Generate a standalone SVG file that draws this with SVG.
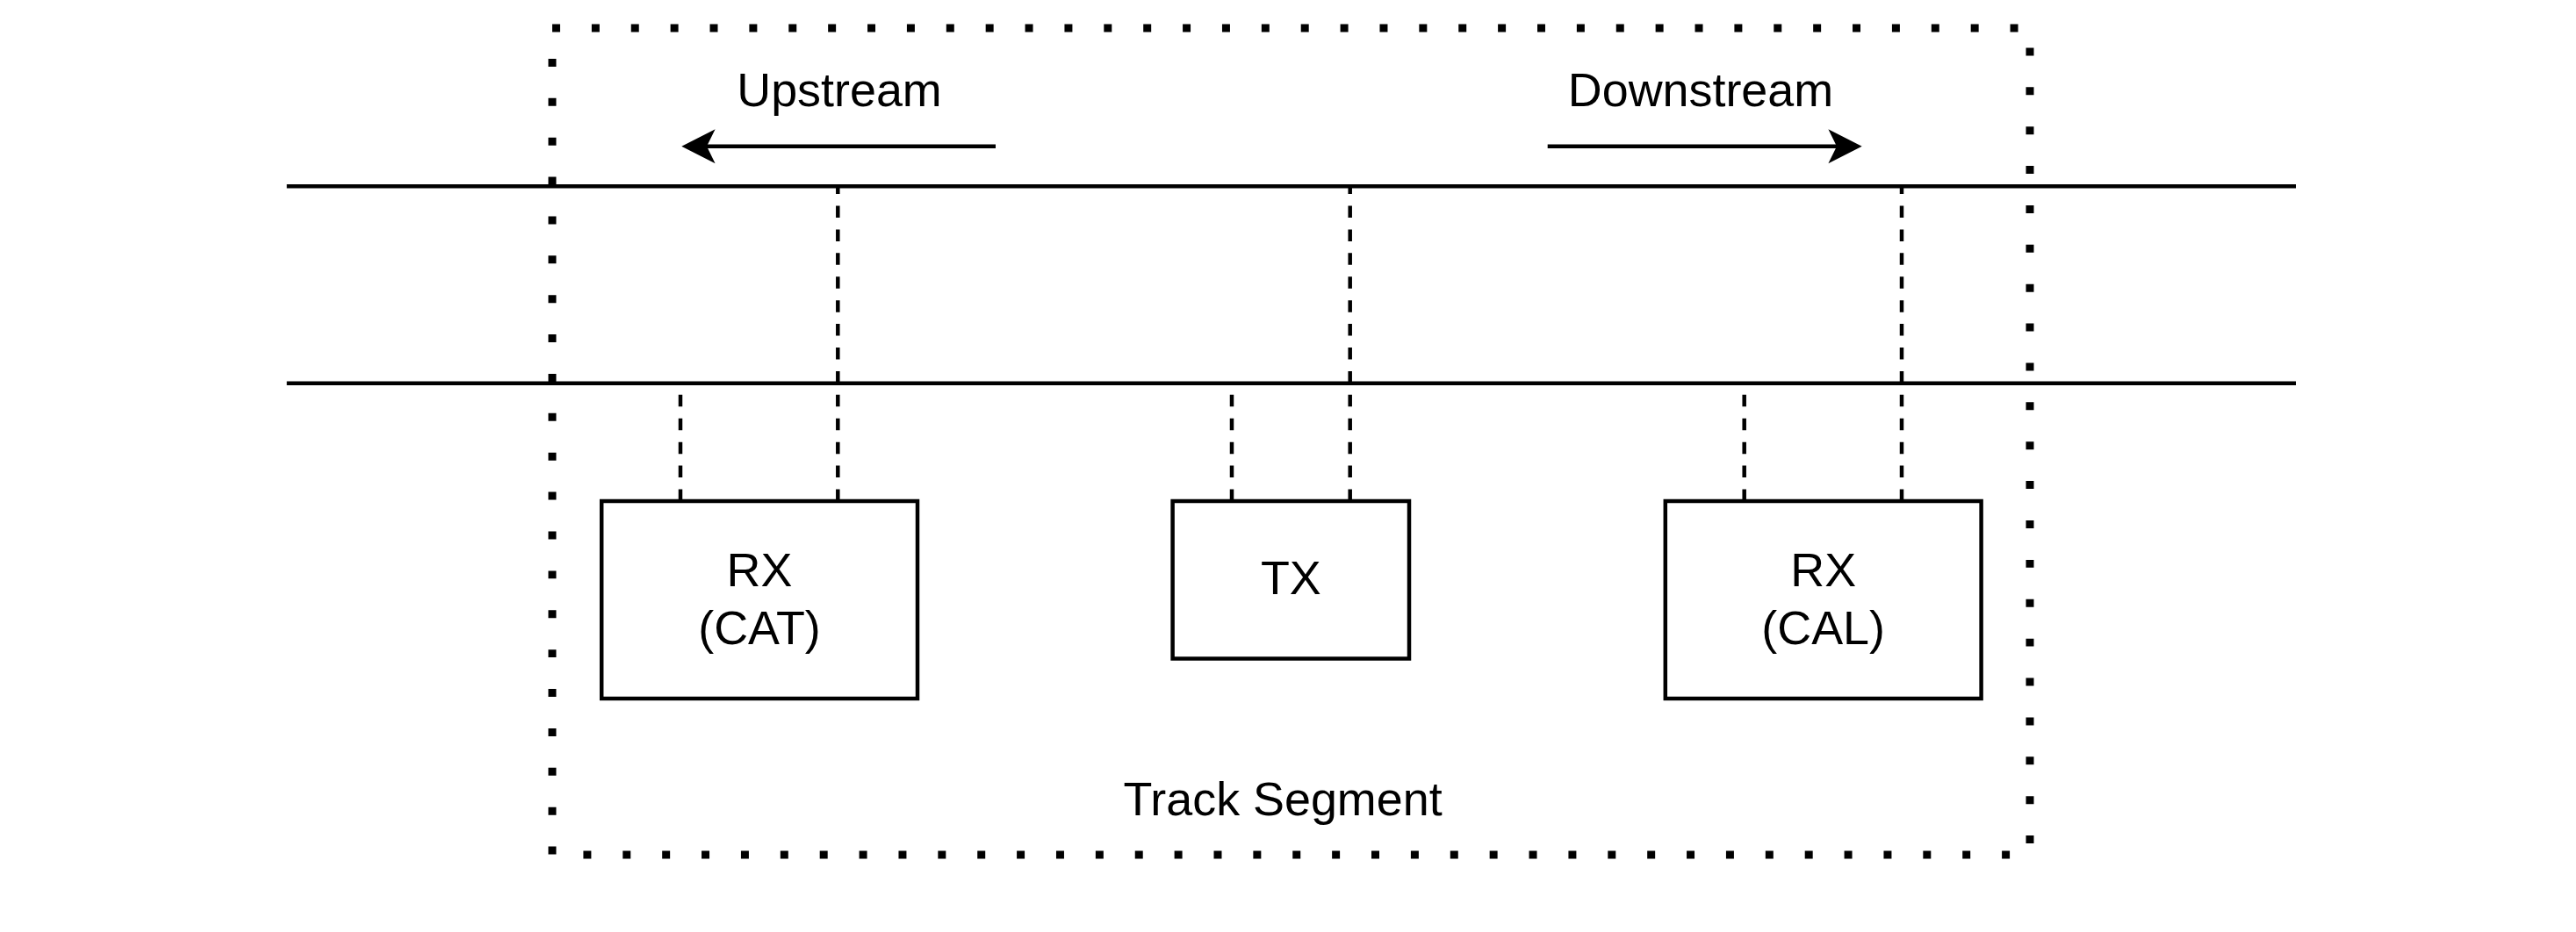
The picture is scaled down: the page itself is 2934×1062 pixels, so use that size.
<svg xmlns="http://www.w3.org/2000/svg" width="2934" height="1062" viewBox="0 0 2934 1062">
  <style>
    .lbl { font-family: "Liberation Sans", Arial, Helvetica, sans-serif; font-size: 53.86px; fill: #000; text-anchor: middle; }
    .box { fill: #fff; stroke: #000; stroke-width: 4.49; }
    .rail { stroke: #000; stroke-width: 4.49; fill: none; }
    .dash { stroke: #000; stroke-width: 4.49; fill: none; stroke-dasharray: 13.46 13.46; }
    .arrow { stroke: #000; stroke-width: 4.49; fill: none; marker-end: url(#classic); }
    .segment { fill: none; stroke: #000; stroke-width: 8.98; stroke-dasharray: 8.98 35.9; }
  </style>
  <defs>
    <marker id="classic" markerUnits="userSpaceOnUse" markerWidth="40" markerHeight="42" viewBox="0 -21 40 42" refX="9.6" refY="0" orient="auto">
      <path d="M38.3,0 L0,-19.5 L9.6,0 L0,19.5 Z" fill="#000" stroke="none"/>
    </marker>
  </defs>
  <rect width="2934" height="1062" fill="#fff"/>

  <g id="track-segment">
    <rect class="segment" x="629" y="32" width="1683" height="942"/>
    <text class="lbl" x="1461" y="928.5">Track Segment</text>
  </g>

  <g id="rails">
    <line class="rail" x1="326.7" y1="212.3" x2="2615" y2="212.3"/>
    <line class="rail" x1="326.7" y1="436.7" x2="2615" y2="436.7"/>
  </g>

  <g id="upstream-label">
    <text class="lbl" x="956" y="120.7">Upstream</text>
  </g>
  <g id="downstream-label">
    <text class="lbl" x="1937" y="120.7">Downstream</text>
  </g>

  <g id="connectors">
    <line class="arrow" x1="1134" y1="166.7" x2="805" y2="166.7"/>
    <line class="arrow" x1="1762.7" y1="166.7" x2="2092" y2="166.7"/>
    <line class="dash" x1="775" y1="571" x2="775" y2="436.7"/>
    <line class="dash" x1="954.3" y1="571" x2="954.3" y2="212.3"/>
    <line class="dash" x1="1403" y1="571" x2="1403" y2="436.7"/>
    <line class="dash" x1="1537.7" y1="571" x2="1537.7" y2="212.3"/>
    <line class="dash" x1="1986.7" y1="571" x2="1986.7" y2="436.7"/>
    <line class="dash" x1="2166" y1="571" x2="2166" y2="212.3"/>
  </g>

  <g id="rx-cat">
    <rect class="box" x="685.2" y="571" width="359.8" height="225"/>
    <text class="lbl" x="865" y="668.3">RX</text>
    <text class="lbl" x="865" y="734.3">(CAT)</text>
  </g>
  <g id="tx">
    <rect class="box" x="1335.6" y="571" width="269.4" height="179.5"/>
    <text class="lbl" x="1470.3" y="676.7">TX</text>
  </g>
  <g id="rx-cal">
    <rect class="box" x="1896.8" y="571" width="359.8" height="225"/>
    <text class="lbl" x="2076.7" y="668.3">RX</text>
    <text class="lbl" x="2076.7" y="734.3">(CAL)</text>
  </g>
</svg>
